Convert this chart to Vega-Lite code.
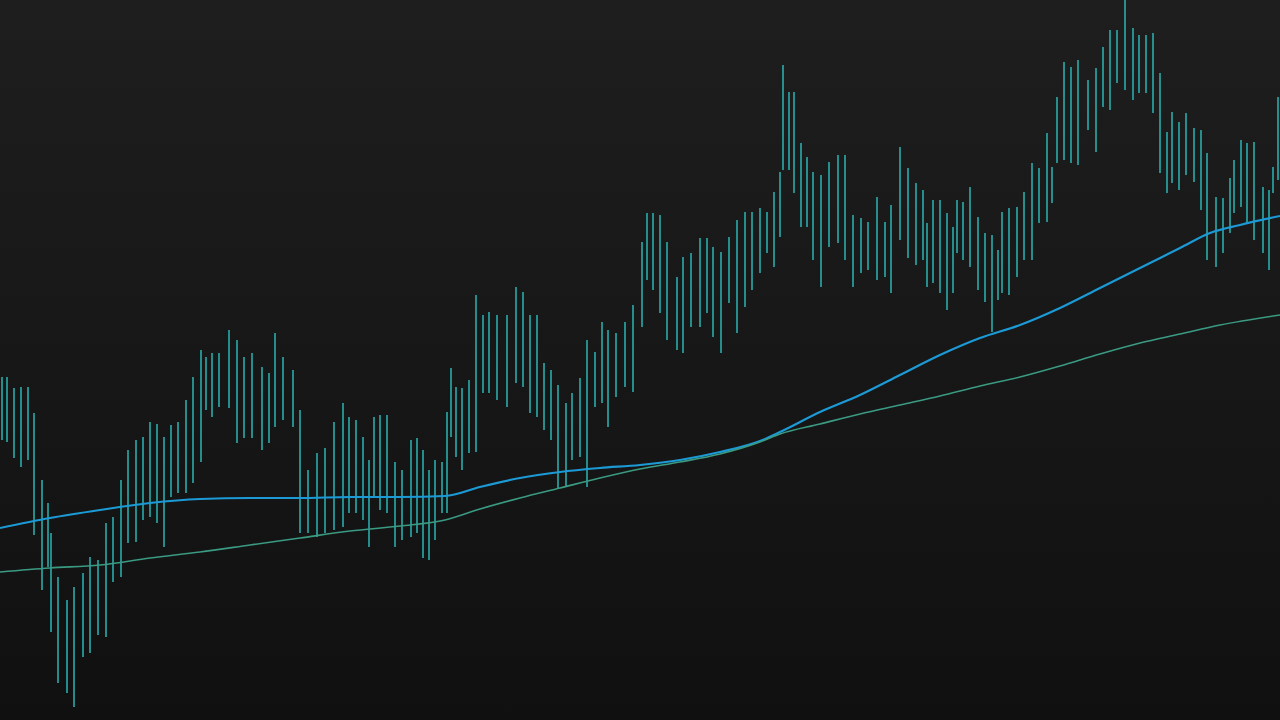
{
  "$schema": "https://vega.github.io/schema/vega-lite/v6.json",
  "width": 1280,
  "height": 720,
  "padding": 0,
  "autosize": {"type": "fit", "contains": "padding"},
  "background": "#161616",
  "config": {
    "view": {
      "stroke": null,
      "fill": {"gradient": "linear", "x1": 0, "y1": 0, "x2": 0, "y2": 1, "stops": [{"offset": 0, "color": "#1e1e1e"}, {"offset": 1, "color": "#101010"}]}
    },
    "axis": {"disable": true},
    "legend": {"disable": true}
  },
  "datasets": {
    "bars": [
      {"t":2,"h":423,"l":360},{"t":7,"h":423,"l":358},{"t":14,"h":412,"l":342},{"t":21,"h":413,"l":333},{"t":28,"h":413,"l":340},
      {"t":34,"h":387,"l":265},{"t":42,"h":320,"l":210},{"t":48,"h":297,"l":233},{"t":51,"h":267,"l":168},{"t":58,"h":223,"l":117},
      {"t":67,"h":200,"l":107},{"t":74,"h":213,"l":93},{"t":83,"h":227,"l":143},{"t":90,"h":243,"l":147},{"t":98,"h":240,"l":165},
      {"t":106,"h":277,"l":163},{"t":113,"h":283,"l":218},{"t":121,"h":320,"l":223},{"t":128,"h":350,"l":257},{"t":136,"h":360,"l":258},
      {"t":143,"h":363,"l":280},{"t":150,"h":378,"l":283},{"t":157,"h":376,"l":277},{"t":164,"h":363,"l":253},{"t":171,"h":375,"l":303},
      {"t":178,"h":378,"l":307},{"t":186,"h":400,"l":307},{"t":193,"h":423,"l":317},{"t":201,"h":450,"l":338},{"t":206,"h":443,"l":390},
      {"t":212,"h":447,"l":383},{"t":219,"h":447,"l":393},{"t":229,"h":470,"l":392},{"t":237,"h":460,"l":357},{"t":244,"h":443,"l":362},
      {"t":252,"h":447,"l":362},{"t":262,"h":433,"l":350},{"t":269,"h":427,"l":357},{"t":275,"h":467,"l":373},{"t":283,"h":443,"l":380},
      {"t":293,"h":430,"l":373},{"t":300,"h":390,"l":267},{"t":308,"h":330,"l":267},{"t":317,"h":347,"l":263},{"t":325,"h":352,"l":267},
      {"t":334,"h":378,"l":270},{"t":343,"h":397,"l":273},{"t":349,"h":383,"l":287},{"t":356,"h":380,"l":287},{"t":363,"h":363,"l":280},
      {"t":369,"h":340,"l":253},{"t":374,"h":383,"l":303},{"t":380,"h":385,"l":290},{"t":387,"h":385,"l":287},{"t":395,"h":338,"l":253},
      {"t":402,"h":330,"l":260},{"t":411,"h":360,"l":263},{"t":417,"h":362,"l":267},{"t":423,"h":350,"l":242},{"t":429,"h":330,"l":240},
      {"t":435,"h":340,"l":260},{"t":442,"h":338,"l":287},{"t":447,"h":388,"l":287},{"t":451,"h":432,"l":363},{"t":456,"h":413,"l":343},
      {"t":462,"h":412,"l":330},{"t":469,"h":420,"l":347},{"t":476,"h":505,"l":348},{"t":483,"h":485,"l":407},{"t":489,"h":488,"l":407},
      {"t":497,"h":485,"l":400},{"t":507,"h":485,"l":393},{"t":516,"h":513,"l":417},{"t":523,"h":508,"l":413},{"t":530,"h":485,"l":387},
      {"t":537,"h":485,"l":383},{"t":544,"h":437,"l":370},{"t":551,"h":430,"l":360},{"t":558,"h":415,"l":312},{"t":566,"h":397,"l":313},
      {"t":572,"h":407,"l":340},{"t":580,"h":422,"l":343},{"t":587,"h":460,"l":313},{"t":595,"h":448,"l":393},{"t":602,"h":478,"l":397},
      {"t":608,"h":470,"l":373},{"t":616,"h":467,"l":403},{"t":625,"h":478,"l":413},{"t":633,"h":495,"l":408},{"t":642,"h":558,"l":473},
      {"t":647,"h":587,"l":520},{"t":653,"h":587,"l":510},{"t":660,"h":585,"l":487},{"t":667,"h":558,"l":460},{"t":677,"h":523,"l":450},
      {"t":683,"h":543,"l":447},{"t":691,"h":547,"l":473},{"t":700,"h":562,"l":473},{"t":707,"h":562,"l":487},{"t":713,"h":553,"l":463},
      {"t":721,"h":548,"l":447},{"t":729,"h":563,"l":497},{"t":737,"h":580,"l":467},{"t":745,"h":588,"l":493},{"t":752,"h":588,"l":510},
      {"t":760,"h":592,"l":527},{"t":767,"h":588,"l":547},{"t":774,"h":608,"l":533},{"t":780,"h":628,"l":563},{"t":783,"h":735,"l":630},
      {"t":789,"h":708,"l":630},{"t":794,"h":708,"l":607},{"t":801,"h":657,"l":573},{"t":807,"h":643,"l":573},{"t":813,"h":628,"l":540},
      {"t":821,"h":625,"l":513},{"t":829,"h":638,"l":553},{"t":838,"h":645,"l":557},{"t":845,"h":645,"l":540},{"t":853,"h":585,"l":513},
      {"t":861,"h":582,"l":527},{"t":868,"h":578,"l":530},{"t":877,"h":603,"l":520},{"t":885,"h":578,"l":523},{"t":891,"h":595,"l":507},
      {"t":900,"h":653,"l":560},{"t":908,"h":632,"l":542},{"t":916,"h":617,"l":535},{"t":923,"h":610,"l":540},{"t":927,"h":577,"l":513},
      {"t":933,"h":600,"l":517},{"t":940,"h":600,"l":507},{"t":947,"h":587,"l":490},{"t":953,"h":573,"l":507},{"t":957,"h":600,"l":547},
      {"t":963,"h":598,"l":540},{"t":970,"h":613,"l":533},{"t":978,"h":583,"l":510},{"t":985,"h":567,"l":498},{"t":992,"h":565,"l":468},
      {"t":998,"h":550,"l":500},{"t":1002,"h":588,"l":507},{"t":1009,"h":592,"l":505},{"t":1017,"h":593,"l":523},{"t":1024,"h":608,"l":540},
      {"t":1032,"h":637,"l":540},{"t":1039,"h":632,"l":577},{"t":1047,"h":667,"l":578},{"t":1052,"h":633,"l":597},{"t":1057,"h":703,"l":637},
      {"t":1064,"h":738,"l":640},{"t":1071,"h":733,"l":637},{"t":1078,"h":740,"l":635},{"t":1088,"h":720,"l":670},{"t":1096,"h":732,"l":648},
      {"t":1103,"h":753,"l":693},{"t":1110,"h":770,"l":690},{"t":1117,"h":770,"l":717},{"t":1125,"h":800,"l":710},{"t":1133,"h":772,"l":700},
      {"t":1139,"h":765,"l":707},{"t":1146,"h":765,"l":707},{"t":1153,"h":767,"l":687},{"t":1160,"h":727,"l":627},{"t":1167,"h":668,"l":607},
      {"t":1172,"h":688,"l":617},{"t":1179,"h":678,"l":610},{"t":1186,"h":687,"l":625},{"t":1194,"h":672,"l":618},{"t":1201,"h":670,"l":590},
      {"t":1207,"h":647,"l":540},{"t":1216,"h":603,"l":533},{"t":1223,"h":602,"l":547},{"t":1230,"h":622,"l":567},{"t":1234,"h":640,"l":587},
      {"t":1241,"h":660,"l":593},{"t":1247,"h":657,"l":577},{"t":1254,"h":658,"l":560},{"t":1263,"h":613,"l":547},{"t":1269,"h":610,"l":530},
      {"t":1273,"h":633,"l":607},{"t":1278,"h":703,"l":620}
    ],
    "ma": [
      {"t":0,"v":272,"s":"fast"},{"t":50,"v":282,"s":"fast"},{"t":100,"v":290,"s":"fast"},{"t":150,"v":297,"s":"fast"},{"t":200,"v":301,"s":"fast"},
      {"t":250,"v":302,"s":"fast"},{"t":300,"v":302,"s":"fast"},{"t":350,"v":303,"s":"fast"},{"t":400,"v":303,"s":"fast"},{"t":445,"v":304,"s":"fast"},
      {"t":480,"v":313,"s":"fast"},{"t":520,"v":322,"s":"fast"},{"t":560,"v":328,"s":"fast"},{"t":600,"v":332,"s":"fast"},{"t":640,"v":335,"s":"fast"},
      {"t":680,"v":340,"s":"fast"},{"t":720,"v":348,"s":"fast"},{"t":760,"v":359,"s":"fast"},{"t":780,"v":368,"s":"fast"},{"t":820,"v":388,"s":"fast"},
      {"t":860,"v":405,"s":"fast"},{"t":900,"v":425,"s":"fast"},{"t":940,"v":445,"s":"fast"},{"t":980,"v":462,"s":"fast"},{"t":1020,"v":475,"s":"fast"},
      {"t":1060,"v":492,"s":"fast"},{"t":1100,"v":512,"s":"fast"},{"t":1140,"v":532,"s":"fast"},{"t":1180,"v":552,"s":"fast"},{"t":1210,"v":567,"s":"fast"},
      {"t":1240,"v":575,"s":"fast"},{"t":1280,"v":584,"s":"fast"},
      {"t":0,"v":228,"s":"slow"},{"t":50,"v":232,"s":"slow"},{"t":100,"v":235,"s":"slow"},{"t":150,"v":242,"s":"slow"},{"t":200,"v":248,"s":"slow"},
      {"t":250,"v":255,"s":"slow"},{"t":300,"v":262,"s":"slow"},{"t":350,"v":269,"s":"slow"},{"t":400,"v":274,"s":"slow"},{"t":445,"v":280,"s":"slow"},
      {"t":480,"v":291,"s":"slow"},{"t":520,"v":302,"s":"slow"},{"t":560,"v":312,"s":"slow"},{"t":600,"v":322,"s":"slow"},{"t":640,"v":331,"s":"slow"},
      {"t":680,"v":338,"s":"slow"},{"t":720,"v":346,"s":"slow"},{"t":760,"v":358,"s":"slow"},{"t":780,"v":366,"s":"slow"},{"t":820,"v":376,"s":"slow"},
      {"t":860,"v":386,"s":"slow"},{"t":900,"v":395,"s":"slow"},{"t":940,"v":404,"s":"slow"},{"t":980,"v":414,"s":"slow"},{"t":1020,"v":423,"s":"slow"},
      {"t":1060,"v":434,"s":"slow"},{"t":1100,"v":446,"s":"slow"},{"t":1140,"v":457,"s":"slow"},{"t":1180,"v":466,"s":"slow"},{"t":1220,"v":475,"s":"slow"},
      {"t":1280,"v":485,"s":"slow"}
    ]
  },
  "layer": [
    {
      "data": {"name": "bars"},
      "mark": {"type": "rule", "strokeWidth": 1.8, "color": "#2cb2b2", "opacity": 0.85, "clip": true},
      "encoding": {
        "x": {"field": "t", "type": "quantitative", "scale": {"domain": [0, 1280], "nice": false, "zero": false}},
        "y": {"field": "l", "type": "quantitative", "scale": {"domain": [80, 800], "nice": false, "zero": false}},
        "y2": {"field": "h"}
      }
    },
    {
      "data": {"name": "ma"},
      "mark": {"type": "line", "interpolate": "monotone", "clip": true},
      "encoding": {
        "x": {"field": "t", "type": "quantitative"},
        "y": {"field": "v", "type": "quantitative"},
        "detail": {"field": "s"},
        "color": {"field": "s", "type": "nominal", "scale": {"domain": ["fast", "slow"], "range": ["#1c9ad6", "#3a9a82"]}},
        "strokeWidth": {"field": "s", "type": "nominal", "scale": {"domain": ["fast", "slow"], "range": [2.2, 1.6]}}
      }
    }
  ]
}
